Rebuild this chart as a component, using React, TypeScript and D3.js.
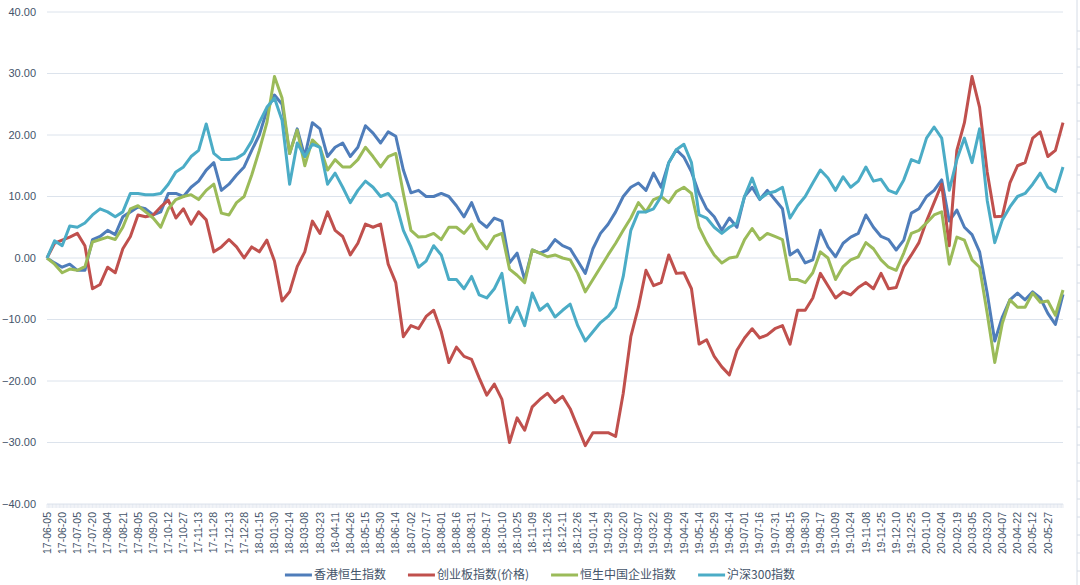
import React, { useRef, useEffect } from 'react';
import * as d3 from 'd3';

// category labels on the x axis (one every 11 trading days)
const dateLabels = [
  '17-06-05', '17-06-20', '17-07-05', '17-07-20', '17-08-04', '17-08-21', '17-09-05', '17-09-20',
  '17-10-12', '17-10-27', '17-11-13', '17-11-28', '17-12-13', '17-12-28', '18-01-15', '18-01-30',
  '18-02-14', '18-03-08', '18-03-23', '18-04-11', '18-04-26', '18-05-15', '18-05-30', '18-06-14',
  '18-07-02', '18-07-17', '18-08-01', '18-08-16', '18-08-31', '18-09-17', '18-10-10', '18-10-25',
  '18-11-09', '18-11-26', '18-12-11', '18-12-26', '19-01-14', '19-01-29', '19-02-20', '19-03-07',
  '19-03-22', '19-04-09', '19-04-24', '19-05-14', '19-05-29', '19-06-14', '19-07-01', '19-07-16',
  '19-07-31', '19-08-15', '19-08-30', '19-09-17', '19-10-09', '19-10-24', '19-11-08', '19-11-25',
  '19-12-10', '19-12-25', '20-01-10', '20-02-04', '20-02-19', '20-03-05', '20-03-20', '20-04-07',
  '20-04-22', '20-05-12', '20-05-27',
];

// cumulative change (%), sampled twice per label interval
const hsi = [
  0, -0.8, -1.5, -1, -2, -2, 3, 3.5, 4.5, 3.8, 6.7, 7.5, 8.3, 8, 7, 7.5, 10.5, 10.5, 10, 11.5,
  12.5, 14.3, 15.5, 11, 12, 13.5, 14.8, 17.5, 20, 24, 26.5, 25, 17, 21, 16.5, 22, 21, 16.5, 18, 18.7,
  16.5, 18, 21.5, 20.3, 18.7, 20.5, 19.8, 14.3, 10.6, 11, 10, 10, 10.5, 10, 8.5, 6.7, 9, 6, 5, 6.5,
  6, -0.8, 0.8, -3.5, 1.3, 0.8, 1.3, 3, 2, 1.5, -0.5, -2.5, 1.5, 4, 5.5, 7.5, 10, 11.5, 12.2, 11,
  13.8, 11.5, 15.5, 17.6, 16.4, 14, 10.5, 8, 6.7, 4.5, 6.5, 5, 10, 11.5, 9.5, 11, 9.5, 8, 0.5, 1.3,
  -0.8, -0.3, 4.5, 1.8, 0.2, 2.4, 3.4, 4, 7, 5, 3.5, 3, 1.3, 2.9, 7.3, 8, 10, 11, 12.7, 6,
  7.8, 5, 3.8, 1, -5.7, -13.5, -9.6, -6.8, -5.7, -6.8, -5.5, -6.5, -9, -10.8, -5.9,
];

const chinext = [
  0, 2.4, 2.9, 3.4, 4, 2, -5, -4.3, -1.5, -2.4, 1.5, 3.5, 7, 6.7, 7, 8.3, 9.4, 6.5, 8, 5.5,
  7.5, 6.2, 1, 1.8, 3, 1.8, 0, 1.8, 1, 2.9, -0.5, -7, -5.5, -1.4, 1, 6, 4, 7.5, 4.5, 3.5,
  0.5, 2.4, 5.5, 5, 5.5, -1, -4, -12.8, -11, -11.5, -9.5, -8.5, -12, -17, -14.5, -16, -16.5, -19.5, -22.3, -20.5,
  -23, -30, -26, -28, -24.2, -23, -22, -23.5, -22.5, -24.5, -27.5, -30.5, -28.4, -28.4, -28.4, -29, -22, -12.8, -8, -2,
  -4.5, -4, 0.5, -2.5, -2.4, -5, -14, -13.3, -16, -17.7, -19, -15, -13, -11.5, -13, -12.5, -11.5, -11, -14, -8.5,
  -8.5, -6.5, -2.5, -4.5, -6.5, -5.5, -6, -4.8, -4, -5, -2.5, -5, -4.8, -1.4, 0.5, 2.5, 6, 9, 12, 2,
  17.5, 22, 29.5, 24.5, 14, 6.7, 6.8, 12.2, 15, 15.5, 19.5, 20.5, 16.5, 17.5, 22,
];

const hscei = [
  0, -1, -2.4, -1.8, -2, -1.4, 2.6, 3, 3.4, 3, 5, 8, 8.5, 7.5, 6.5, 5, 8, 9.5, 10, 10.3,
  9.5, 11, 12, 7.3, 7, 9, 10, 13.5, 17.5, 22, 29.5, 26, 17, 20.8, 15, 19.2, 18, 14.3, 16, 14.8,
  14.8, 16, 18, 16.5, 14.8, 16.5, 17, 10.5, 4.5, 3.4, 3.5, 4, 3, 5, 5, 4, 5.5, 3, 1.5, 3.5,
  4, -1.8, -2.8, -4, 1.3, 0.8, 0.2, 0.5, 0, -0.3, -2.5, -5.5, -3.5, -1.5, 0.5, 2.4, 4.5, 6.5, 9, 7.5,
  9.5, 10, 9, 10.8, 11.5, 10.5, 5, 2.5, 0.5, -0.8, 0, 0.2, 3, 4.8, 3, 4, 3.5, 3, -3.5, -3.5,
  -4, -2.4, 1, 0, -3.5, -1.4, -0.3, 0.2, 2.5, 1.5, -0.3, -1.5, -2, 0.8, 4, 4.5, 5.7, 7, 7.5, -1,
  3.4, 2.9, -0.3, -1.5, -9, -17, -10.6, -6.8, -8, -8, -5.7, -7.2, -7, -9.3, -5.2,
];

const csi300 = [
  0, 2.8, 2, 5.2, 5, 5.7, 7, 8, 7.5, 6.7, 7.5, 10.5, 10.5, 10.3, 10.3, 10.5, 12, 14, 14.8, 16.5,
  17.5, 21.8, 17, 16, 16, 16.2, 17, 19, 22, 24.5, 26, 22.4, 12, 18.7, 16.5, 18.5, 18, 12, 13.8, 11.5,
  9, 11, 12.5, 11.5, 10, 10.5, 9, 4.5, 1.8, -1.5, -0.5, 2, 0.5, -3.5, -3.5, -5, -3, -6, -6.5, -5,
  -2.5, -10.5, -8, -11, -5.7, -8.5, -7.5, -9.6, -8.5, -7.5, -11, -13.5, -12, -10.5, -9.5, -8, -3, 4.5, 7.5, 7.5,
  8, 10, 15.5, 17.6, 18.5, 15.5, 7, 6.5, 5, 4, 5, 5.7, 10, 13, 9.6, 10.5, 10.8, 11.5, 6.5, 8.5,
  10, 12.2, 14.3, 13, 11, 13.2, 11.5, 12.5, 14.8, 12.5, 12.8, 11, 10.5, 12.7, 16, 15.5, 19.5, 21.3, 19.5, 11,
  16, 19.5, 15.5, 21, 9.4, 2.5, 6.2, 8.3, 10, 10.5, 12, 13.8, 11.5, 10.8, 14.8,
];

const seriesNames = ['香港恒生指数', '创业板指数(价格)', '恒生中国企业指数', '沪深300指数'];
const seriesColors = ['#4F7DBA', '#C0504D', '#9BBB59', '#4BACC6'];
const yTicks = [-40, -30, -20, -10, 0, 10, 20, 30, 40];

const W = 1080;
const H = 585;

export default function App() {
  const svgRef = useRef<SVGSVGElement>(null);

  useEffect(() => {
    const svg = d3.select(svgRef.current);
    svg.selectAll('*').remove();

    const allSeries = [hsi, chinext, hscei, csi300];
    const n = hsi.length;

    const x = d3.scaleLinear().domain([0, n - 1]).range([47, 1063]);
    const y = d3.scaleLinear().domain([-40, 40]).range([504, 12]);

    // gridlines
    svg.append('g')
      .selectAll('line')
      .data(yTicks)
      .join('line')
      .attr('x1', x(0))
      .attr('x2', x(n - 1))
      .attr('y1', (d) => y(d))
      .attr('y2', (d) => y(d))
      .attr('stroke', '#DCE3EC')
      .attr('stroke-width', 1);

    // y labels
    svg.append('g')
      .selectAll('text')
      .data(yTicks)
      .join('text')
      .attr('x', 36)
      .attr('y', (d) => y(d))
      .attr('dy', '0.35em')
      .attr('text-anchor', 'end')
      .attr('font-family', 'Liberation Sans, Arial, sans-serif')
      .attr('font-size', 11)
      .attr('fill', '#44546A')
      .text((d) => d3.format('.2f')(d));

    // dense category ticks (one per trading day)
    const dayTicks = d3.range(0, n - 1 + 1e-6, 1 / 5.5);
    svg.append('g')
      .selectAll('line')
      .data(dayTicks)
      .join('line')
      .attr('x1', (d) => x(d))
      .attr('x2', (d) => x(d))
      .attr('y1', y(-40))
      .attr('y2', y(-40) + 4)
      .attr('stroke', '#D6DEEA')
      .attr('stroke-width', 0.6);

    // x labels
    svg.append('g')
      .selectAll('text')
      .data(dateLabels)
      .join('text')
      .attr('transform', (_d, i) => `translate(${x(i * 2)},512) rotate(-90)`)
      .attr('dy', '0.35em')
      .attr('text-anchor', 'end')
      .attr('font-family', 'Liberation Sans, Arial, sans-serif')
      .attr('font-size', 10.5)
      .attr('fill', '#44546A')
      .text((d) => d);

    // lines
    const line = d3.line<number>()
      .x((_d, i) => x(i))
      .y((d) => y(d));

    allSeries.forEach((s, k) => {
      svg.append('path')
        .datum(s)
        .attr('fill', 'none')
        .attr('stroke', seriesColors[k])
        .attr('stroke-width', 3)
        .attr('stroke-linejoin', 'round')
        .attr('d', line);
    });

    // right-hand edge artifact (cut off axis)
    svg.append('line')
      .attr('x1', 1077).attr('x2', 1077)
      .attr('y1', 0).attr('y2', H)
      .attr('stroke', '#D5DCE6');
    svg.append('g')
      .selectAll('line')
      .data(d3.range(31, H, 18))
      .join('line')
      .attr('x1', 1077).attr('x2', 1081)
      .attr('y1', (d) => d).attr('y2', (d) => d)
      .attr('stroke', '#D5DCE6');

    // legend
    const legend = svg.append('g');
    const items = legend.selectAll('g')
      .data(seriesNames)
      .join('g');
    items.append('line')
      .attr('x1', 0).attr('x2', 27)
      .attr('y1', 0).attr('y2', 0)
      .attr('stroke', (_d, i) => seriesColors[i])
      .attr('stroke-width', 3);
    items.append('text')
      .attr('x', 29)
      .attr('dy', '0.35em')
      .attr('font-family', 'Noto Sans CJK SC, sans-serif')
      .attr('font-size', 12)
      .attr('fill', '#44546A')
      .text((d) => d);

    const widths: number[] = [];
    items.each(function () {
      const t = d3.select(this).select('text').node() as SVGTextElement;
      widths.push(29 + t.getComputedTextLength());
    });
    const gap = 22;
    const total = d3.sum(widths) + gap * (widths.length - 1);
    let cx = (W - total) / 2;
    items.attr('transform', (_d, i) => {
      const tx = cx;
      cx += widths[i] + gap;
      return `translate(${tx},575)`;
    });
  }, []);

  return (
    <svg
      ref={svgRef}
      width={W}
      height={H}
      style={{ position: 'absolute', left: 0, top: 0, background: '#fff' }}
    />
  );
}
